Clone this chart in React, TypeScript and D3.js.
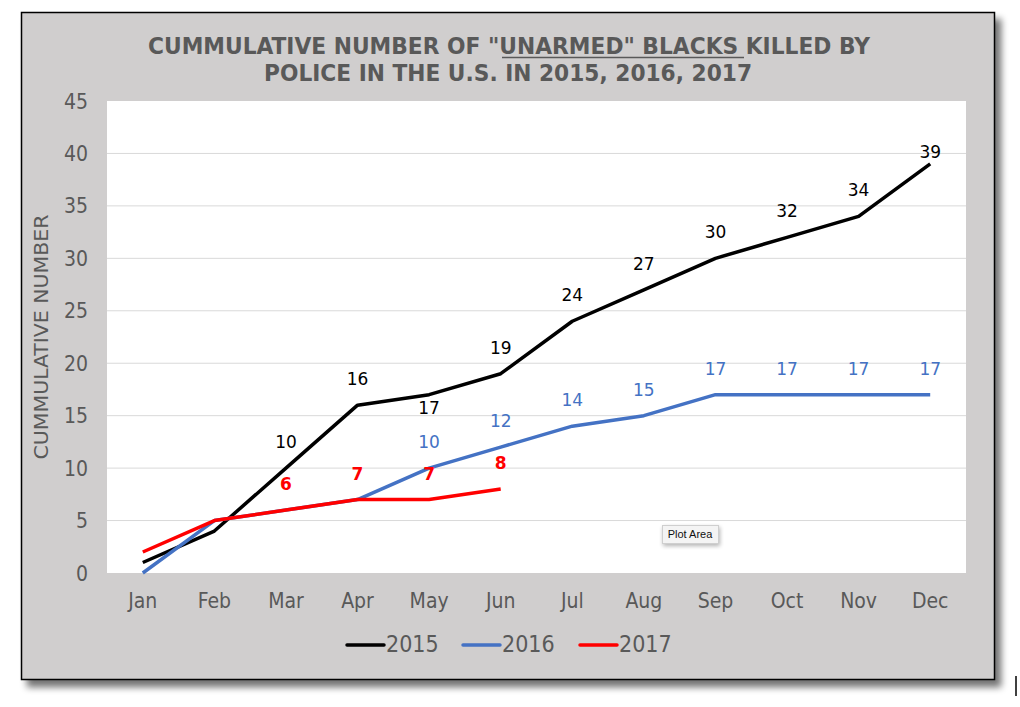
import React from "react";
import * as d3 from "d3";

const months = ["Jan", "Feb", "Mar", "Apr", "May", "Jun", "Jul", "Aug", "Sep", "Oct", "Nov", "Dec"];
const values2015 = [1, 4, 10, 16, 17, 19, 24, 27, 30, 32, 34, 39];
const values2016 = [0, 5, 6, 7, 10, 12, 14, 15, 17, 17, 17, 17];
const values2017 = [2, 5, 6, 7, 7, 8];
// which points carry a data label, and where
const labels2015 = ["", "", "above", "above", "below", "above", "above", "above", "above", "above", "above", "near"];
const labels2016 = ["", "", "", "", "above", "above", "above", "above", "above", "above", "above", "above"];
const labels2017 = ["", "", "above", "above", "above", "above"];
const yTicks = [0, 5, 10, 15, 20, 25, 30, 35, 40, 45];
const seriesNames = ["2015", "2016", "2017"];

const W = 1020;
const H = 707;
const plot = { left: 107, right: 966, top: 101, bottom: 573 };
const colors = ["#000000", "#4472C4", "#FF0000"];
const grey = "#595959";
const cond = "'Liberation Sans Narrow', 'DejaVu Sans Condensed', 'Roboto', sans-serif";
const wide = "'DejaVu Sans', 'Verdana', sans-serif";

const labelOffset: Record<string, number> = { above: -20, below: 19, near: -6 };

export default function App() {
  const x = d3.scalePoint<string>().domain(months).range([plot.left, plot.right]).padding(0.5);
  const y = d3.scaleLinear().domain([0, 45]).range([plot.bottom, plot.top]);
  const line = d3
    .line<number>()
    .x((_, i) => x(months[i]) as number)
    .y((d) => y(d));

  const series = [
    { name: seriesNames[0], values: values2015, labels: labels2015, color: colors[0], bold: false },
    { name: seriesNames[1], values: values2016, labels: labels2016, color: colors[1], bold: false },
    { name: seriesNames[2], values: values2017, labels: labels2017, color: colors[2], bold: true },
  ];

  const legendX = [347, 463, 580];

  return (
    <svg width={W} height={H} style={{ position: "absolute", left: 0, top: 0, background: "#fff" }}>
      <defs>
        <filter id="shadow" x="-5%" y="-5%" width="115%" height="115%">
          <feGaussianBlur in="SourceAlpha" stdDeviation="3.5" />
          <feOffset dx="6" dy="7" result="ob" />
          <feComponentTransfer>
            <feFuncA type="linear" slope="0.55" />
          </feComponentTransfer>
          <feMerge>
            <feMergeNode />
            <feMergeNode in="SourceGraphic" />
          </feMerge>
        </filter>
        <filter id="tipshadow" x="-30%" y="-50%" width="160%" height="220%">
          <feGaussianBlur in="SourceAlpha" stdDeviation="2" />
          <feOffset dx="1" dy="2" />
          <feComponentTransfer>
            <feFuncA type="linear" slope="0.3" />
          </feComponentTransfer>
          <feMerge>
            <feMergeNode />
            <feMergeNode in="SourceGraphic" />
          </feMerge>
        </filter>
      </defs>

      {/* chart panel */}
      <rect x={21.5} y={12.5} width={973} height={667} fill="#D0CECE" stroke="#000" strokeWidth={1.5} filter="url(#shadow)" />
      <line x1={1016} x2={1016} y1={676} y2={696} stroke="#000" strokeWidth={1.5} />

      {/* title */}
      <text x={509} y={54} textAnchor="middle" fontFamily={cond} fontWeight="bold" fontSize={23} fill={grey} textLength={722} lengthAdjust="spacingAndGlyphs">
        CUMMULATIVE NUMBER OF "UNARMED" BLACKS KILLED BY
      </text>
      <line x1={502} x2={744} y1={57.5} y2={57.5} stroke={grey} strokeWidth={1.5} />
      <text x={508} y={81} textAnchor="middle" fontFamily={cond} fontWeight="bold" fontSize={23} fill={grey} textLength={488} lengthAdjust="spacingAndGlyphs">
        POLICE IN THE U.S. IN 2015, 2016, 2017
      </text>

      {/* plot area */}
      <rect x={plot.left} y={plot.top} width={plot.right - plot.left} height={plot.bottom - plot.top} fill="#fff" />
      {yTicks.map((t) => (
        <g key={t}>
          {t > 0 && t < 45 && (
            <line x1={plot.left} x2={plot.right} y1={y(t)} y2={y(t)} stroke="#D9D9D9" strokeWidth={1} />
          )}
          <text x={88} y={y(t)} dy="0.36em" textAnchor="end" fontFamily={cond} fontSize={21} fill={grey}>
            {t}
          </text>
        </g>
      ))}

      {months.map((m) => (
        <text key={m} x={x(m)} y={608} textAnchor="middle" fontFamily={cond} fontSize={21} fill={grey}>
          {m}
        </text>
      ))}

      <text
        transform={`translate(48,337) rotate(-90)`}
        textAnchor="middle"
        fontFamily={cond}
        fontSize={20}
        fill={grey}
        textLength={245}
        lengthAdjust="spacingAndGlyphs"
      >
        CUMMULATIVE NUMBER
      </text>

      {/* lines */}
      {series.map((s) => (
        <path key={s.name} d={line(s.values) || ""} fill="none" stroke={s.color} strokeWidth={3.5} strokeLinejoin="round" />
      ))}

      {/* data labels */}
      {series.map((s) =>
        s.values.map((v, i) =>
          s.labels[i] ? (
            <text
              key={s.name + i}
              x={x(months[i])}
              y={y(v) + labelOffset[s.labels[i]]}
              textAnchor="middle"
              fontFamily={wide}
              fontSize={17}
              fontWeight={s.bold ? "bold" : "normal"}
              fill={s.color}
            >
              {v}
            </text>
          ) : null
        )
      )}

      {/* legend */}
      {series.map((s, i) => (
        <g key={s.name}>
          <line x1={legendX[i]} x2={legendX[i] + 37} y1={645} y2={645} stroke={s.color} strokeWidth={3.5} strokeLinecap="round" />
          <text x={legendX[i] + 39} y={652} fontFamily={cond} fontSize={23} fill={grey}>
            {s.name}
          </text>
        </g>
      ))}

      {/* Plot Area tooltip */}
      <g filter="url(#tipshadow)">
        <rect x={662.5} y={525.5} width={56} height={18} fill="#F4F4F4" stroke="#CFCFCF" />
      </g>
      <text x={690} y={538} textAnchor="middle" fontFamily="'Liberation Sans', Arial, sans-serif" fontSize={11} fill="#111">
        Plot Area
      </text>
    </svg>
  );
}
